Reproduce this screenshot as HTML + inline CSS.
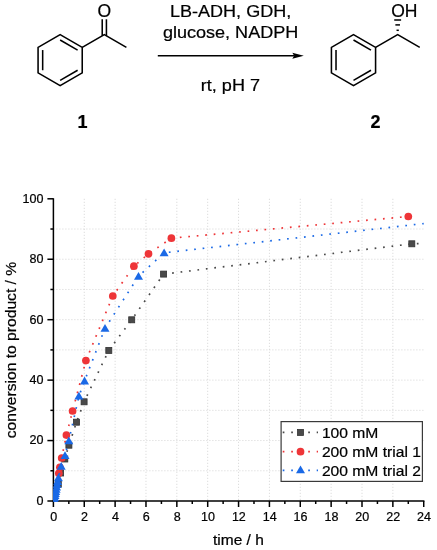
<!DOCTYPE html>
<html><head><meta charset="utf-8"><style>
html,body{margin:0;padding:0;background:#fff;}
svg{display:block;}
text{font-family:"Liberation Sans",Arial,sans-serif;fill:#000;stroke:#000;stroke-width:0.22px;}
</style></head><body>
<svg width="437" height="550" viewBox="0 0 437 550">
<rect width="437" height="550" fill="#fff"/>
<polygon points="60.15,34.65 82.23,47.40 82.23,72.90 60.15,85.65 38.07,72.90 38.07,47.40" fill="none" stroke="#000" stroke-width="1.55" stroke-linejoin="miter"/><line x1="60.15" y1="39.96" x2="77.63" y2="50.06" stroke="#000" stroke-width="1.55"/><line x1="77.63" y1="70.24" x2="60.15" y2="80.34" stroke="#000" stroke-width="1.55"/><line x1="42.67" y1="70.24" x2="42.67" y2="50.06" stroke="#000" stroke-width="1.55"/><polyline points="82.23,47.40 104.32,34.65 126.40,47.40" fill="none" stroke="#000" stroke-width="1.55" stroke-linejoin="miter"/><line x1="102.22" y1="19.3" x2="102.22" y2="35.86" stroke="#000" stroke-width="1.55"/><line x1="106.42" y1="19.3" x2="106.42" y2="35.86" stroke="#000" stroke-width="1.55"/><text x="104.32" y="17.2" font-size="17.5" text-anchor="middle">O</text><polygon points="353.50,34.65 375.58,47.40 375.58,72.90 353.50,85.65 331.42,72.90 331.42,47.40" fill="none" stroke="#000" stroke-width="1.55" stroke-linejoin="miter"/><line x1="353.50" y1="39.96" x2="370.98" y2="50.06" stroke="#000" stroke-width="1.55"/><line x1="370.98" y1="70.24" x2="353.50" y2="80.34" stroke="#000" stroke-width="1.55"/><line x1="336.02" y1="70.24" x2="336.02" y2="50.06" stroke="#000" stroke-width="1.55"/><polyline points="375.58,47.40 397.67,34.65 419.75,47.40" fill="none" stroke="#000" stroke-width="1.55" stroke-linejoin="miter"/><line x1="394.22" y1="20.0" x2="401.12" y2="20.0" stroke="#000" stroke-width="1.5"/><line x1="395.37" y1="24.9" x2="399.97" y2="24.9" stroke="#000" stroke-width="1.5"/><line x1="396.52" y1="30.3" x2="398.82" y2="30.3" stroke="#000" stroke-width="1.5"/><text x="391.20" y="17.0" font-size="17.5">OH</text><text x="82.4" y="127.9" font-size="18" font-weight="bold" text-anchor="middle">1</text><text x="375.4" y="127.9" font-size="18" font-weight="bold" text-anchor="middle">2</text><text transform="translate(230.6,16.7) scale(1.05,1)" font-size="17.2" text-anchor="middle">LB-ADH, GDH,</text><text transform="translate(230.6,37.8) scale(1.05,1)" font-size="17.2" text-anchor="middle">glucose, NADPH</text><text transform="translate(230.4,90.6) scale(1.05,1)" font-size="17.2" text-anchor="middle">rt, pH 7</text><line x1="157.8" y1="55.8" x2="294" y2="55.8" stroke="#000" stroke-width="1.5"/><path d="M303.8,55.8 L292.3,52.8 L294.2,55.8 L292.3,58.8 Z" fill="#000"/><g stroke="#d4d4d4" stroke-width="1" stroke-dasharray="1 2"><line x1="84.26" y1="198.80" x2="84.26" y2="501.00"/><line x1="115.12" y1="198.80" x2="115.12" y2="501.00"/><line x1="145.98" y1="198.80" x2="145.98" y2="501.00"/><line x1="176.84" y1="198.80" x2="176.84" y2="501.00"/><line x1="207.70" y1="198.80" x2="207.70" y2="501.00"/><line x1="238.56" y1="198.80" x2="238.56" y2="501.00"/><line x1="269.42" y1="198.80" x2="269.42" y2="501.00"/><line x1="300.28" y1="198.80" x2="300.28" y2="501.00"/><line x1="331.14" y1="198.80" x2="331.14" y2="501.00"/><line x1="362.00" y1="198.80" x2="362.00" y2="501.00"/><line x1="392.86" y1="198.80" x2="392.86" y2="501.00"/><line x1="53.40" y1="470.78" x2="423.72" y2="470.78"/><line x1="53.40" y1="440.56" x2="423.72" y2="440.56"/><line x1="53.40" y1="410.34" x2="423.72" y2="410.34"/><line x1="53.40" y1="380.12" x2="423.72" y2="380.12"/><line x1="53.40" y1="349.90" x2="423.72" y2="349.90"/><line x1="53.40" y1="319.68" x2="423.72" y2="319.68"/><line x1="53.40" y1="289.46" x2="423.72" y2="289.46"/><line x1="53.40" y1="259.24" x2="423.72" y2="259.24"/><line x1="53.40" y1="229.02" x2="423.72" y2="229.02"/></g><g stroke="#000" stroke-width="1.5" stroke-linecap="butt"><line x1="53.40" y1="198.20" x2="53.40" y2="501.70"/><line x1="52.70" y1="501.00" x2="424.42" y2="501.00"/><line x1="47.40" y1="501.00" x2="53.40" y2="501.00"/><line x1="50.40" y1="470.78" x2="53.40" y2="470.78"/><line x1="47.40" y1="440.56" x2="53.40" y2="440.56"/><line x1="50.40" y1="410.34" x2="53.40" y2="410.34"/><line x1="47.40" y1="380.12" x2="53.40" y2="380.12"/><line x1="50.40" y1="349.90" x2="53.40" y2="349.90"/><line x1="47.40" y1="319.68" x2="53.40" y2="319.68"/><line x1="50.40" y1="289.46" x2="53.40" y2="289.46"/><line x1="47.40" y1="259.24" x2="53.40" y2="259.24"/><line x1="50.40" y1="229.02" x2="53.40" y2="229.02"/><line x1="47.40" y1="198.80" x2="53.40" y2="198.80"/><line x1="53.40" y1="501.00" x2="53.40" y2="507.00"/><line x1="68.83" y1="501.00" x2="68.83" y2="504.00"/><line x1="84.26" y1="501.00" x2="84.26" y2="507.00"/><line x1="99.69" y1="501.00" x2="99.69" y2="504.00"/><line x1="115.12" y1="501.00" x2="115.12" y2="507.00"/><line x1="130.55" y1="501.00" x2="130.55" y2="504.00"/><line x1="145.98" y1="501.00" x2="145.98" y2="507.00"/><line x1="161.41" y1="501.00" x2="161.41" y2="504.00"/><line x1="176.84" y1="501.00" x2="176.84" y2="507.00"/><line x1="192.27" y1="501.00" x2="192.27" y2="504.00"/><line x1="207.70" y1="501.00" x2="207.70" y2="507.00"/><line x1="223.13" y1="501.00" x2="223.13" y2="504.00"/><line x1="238.56" y1="501.00" x2="238.56" y2="507.00"/><line x1="253.99" y1="501.00" x2="253.99" y2="504.00"/><line x1="269.42" y1="501.00" x2="269.42" y2="507.00"/><line x1="284.85" y1="501.00" x2="284.85" y2="504.00"/><line x1="300.28" y1="501.00" x2="300.28" y2="507.00"/><line x1="315.71" y1="501.00" x2="315.71" y2="504.00"/><line x1="331.14" y1="501.00" x2="331.14" y2="507.00"/><line x1="346.57" y1="501.00" x2="346.57" y2="504.00"/><line x1="362.00" y1="501.00" x2="362.00" y2="507.00"/><line x1="377.43" y1="501.00" x2="377.43" y2="504.00"/><line x1="392.86" y1="501.00" x2="392.86" y2="507.00"/><line x1="408.29" y1="501.00" x2="408.29" y2="504.00"/><line x1="423.72" y1="501.00" x2="423.72" y2="507.00"/></g><clipPath id="pc"><rect x="53.20" y="150" width="378.32" height="351.90"/></clipPath><g clip-path="url(#pc)"><polyline points="53.40,501.00 58.30,484.20 60.60,473.00 64.80,459.00 68.90,445.20 76.50,422.20 84.10,401.80 108.80,350.40 131.70,319.80 163.60,274.10 411.80,243.80 423.70,243.60" fill="none" stroke="#4a4a4a" stroke-width="1.7" stroke-dasharray="1.7 6.8"/><rect x="55.30" y="481.20" width="6.0" height="6.0" fill="#4a4a4a" stroke="#333" stroke-width="0.8"/><rect x="57.60" y="470.00" width="6.0" height="6.0" fill="#4a4a4a" stroke="#333" stroke-width="0.8"/><rect x="61.80" y="456.00" width="6.0" height="6.0" fill="#4a4a4a" stroke="#333" stroke-width="0.8"/><rect x="65.90" y="442.20" width="6.0" height="6.0" fill="#4a4a4a" stroke="#333" stroke-width="0.8"/><rect x="73.50" y="419.20" width="6.0" height="6.0" fill="#4a4a4a" stroke="#333" stroke-width="0.8"/><rect x="81.10" y="398.80" width="6.0" height="6.0" fill="#4a4a4a" stroke="#333" stroke-width="0.8"/><rect x="105.80" y="347.40" width="6.0" height="6.0" fill="#4a4a4a" stroke="#333" stroke-width="0.8"/><rect x="128.70" y="316.80" width="6.0" height="6.0" fill="#4a4a4a" stroke="#333" stroke-width="0.8"/><rect x="160.60" y="271.10" width="6.0" height="6.0" fill="#4a4a4a" stroke="#333" stroke-width="0.8"/><rect x="408.80" y="240.80" width="6.0" height="6.0" fill="#4a4a4a" stroke="#333" stroke-width="0.8"/><polyline points="53.40,501.00 58.80,473.30 59.90,467.30 61.70,458.00 66.40,435.10 72.60,411.00 85.90,360.60 112.80,296.00 133.90,266.20 148.50,253.80 171.40,238.20 408.30,216.50" fill="none" stroke="#ee3538" stroke-width="1.7" stroke-dasharray="1.7 6.8"/><circle cx="58.80" cy="473.30" r="3.85" fill="#ee3538"/><circle cx="59.90" cy="467.30" r="3.85" fill="#ee3538"/><circle cx="61.70" cy="458.00" r="3.85" fill="#ee3538"/><circle cx="66.40" cy="435.10" r="3.85" fill="#ee3538"/><circle cx="72.60" cy="411.00" r="3.85" fill="#ee3538"/><circle cx="85.90" cy="360.60" r="3.85" fill="#ee3538"/><circle cx="112.80" cy="296.00" r="3.85" fill="#ee3538"/><circle cx="133.90" cy="266.20" r="3.85" fill="#ee3538"/><circle cx="148.50" cy="253.80" r="3.85" fill="#ee3538"/><circle cx="171.40" cy="238.20" r="3.85" fill="#ee3538"/><circle cx="408.30" cy="216.50" r="3.85" fill="#ee3538"/><polyline points="54.30,499.60 54.60,497.60 55.00,495.60 55.30,493.60 55.70,491.50 56.10,489.30 56.50,487.00 57.00,484.50 57.60,481.50 58.40,477.90 61.20,466.30 65.00,455.60 68.80,440.80 78.90,396.20 84.50,381.00 105.00,328.30 138.50,276.30 164.10,252.80 423.70,223.60" fill="none" stroke="#1a69e6" stroke-width="1.7" stroke-dasharray="1.7 6.8"/><polygon points="54.30,495.20 58.80,503.00 49.80,503.00" fill="#1a69e6"/><polygon points="54.60,493.20 59.10,501.00 50.10,501.00" fill="#1a69e6"/><polygon points="55.00,491.20 59.50,499.00 50.50,499.00" fill="#1a69e6"/><polygon points="55.30,489.20 59.80,497.00 50.80,497.00" fill="#1a69e6"/><polygon points="55.70,487.10 60.20,494.90 51.20,494.90" fill="#1a69e6"/><polygon points="56.10,484.90 60.60,492.70 51.60,492.70" fill="#1a69e6"/><polygon points="56.50,482.60 61.00,490.40 52.00,490.40" fill="#1a69e6"/><polygon points="57.00,480.10 61.50,487.90 52.50,487.90" fill="#1a69e6"/><polygon points="57.60,477.10 62.10,484.90 53.10,484.90" fill="#1a69e6"/><polygon points="58.40,473.50 62.90,481.30 53.90,481.30" fill="#1a69e6"/><polygon points="61.20,461.90 65.70,469.70 56.70,469.70" fill="#1a69e6"/><polygon points="65.00,451.20 69.50,459.00 60.50,459.00" fill="#1a69e6"/><polygon points="68.80,436.40 73.30,444.20 64.30,444.20" fill="#1a69e6"/><polygon points="78.90,391.80 83.40,399.60 74.40,399.60" fill="#1a69e6"/><polygon points="84.50,376.60 89.00,384.40 80.00,384.40" fill="#1a69e6"/><polygon points="105.00,323.90 109.50,331.70 100.50,331.70" fill="#1a69e6"/><polygon points="138.50,271.90 143.00,279.70 134.00,279.70" fill="#1a69e6"/><polygon points="164.10,248.40 168.60,256.20 159.60,256.20" fill="#1a69e6"/></g><g font-size="13"><text transform="translate(43.5,504.90) scale(0.965,1)" text-anchor="end">0</text><text transform="translate(43.5,444.46) scale(0.965,1)" text-anchor="end">20</text><text transform="translate(43.5,384.02) scale(0.965,1)" text-anchor="end">40</text><text transform="translate(43.5,323.58) scale(0.965,1)" text-anchor="end">60</text><text transform="translate(43.5,263.14) scale(0.965,1)" text-anchor="end">80</text><text transform="translate(43.5,202.70) scale(0.965,1)" text-anchor="end">100</text><text transform="translate(53.70,520.8) scale(0.965,1)" text-anchor="middle">0</text><text transform="translate(84.56,520.8) scale(0.965,1)" text-anchor="middle">2</text><text transform="translate(115.42,520.8) scale(0.965,1)" text-anchor="middle">4</text><text transform="translate(146.28,520.8) scale(0.965,1)" text-anchor="middle">6</text><text transform="translate(177.14,520.8) scale(0.965,1)" text-anchor="middle">8</text><text transform="translate(208.00,520.8) scale(0.965,1)" text-anchor="middle">10</text><text transform="translate(238.86,520.8) scale(0.965,1)" text-anchor="middle">12</text><text transform="translate(269.72,520.8) scale(0.965,1)" text-anchor="middle">14</text><text transform="translate(300.58,520.8) scale(0.965,1)" text-anchor="middle">16</text><text transform="translate(331.44,520.8) scale(0.965,1)" text-anchor="middle">18</text><text transform="translate(362.30,520.8) scale(0.965,1)" text-anchor="middle">20</text><text transform="translate(393.16,520.8) scale(0.965,1)" text-anchor="middle">22</text><text transform="translate(424.02,520.8) scale(0.965,1)" text-anchor="middle">24</text></g><text transform="translate(238.4,545.2) scale(1.085,1)" font-size="14.3" text-anchor="middle">time / h</text><text transform="translate(15.9,350) rotate(-90) scale(1.03,1)" font-size="15.2" text-anchor="middle">conversion to product / %</text><rect x="281.1" y="421.6" width="141.3" height="59.8" fill="#fff" stroke="#3a3a3a" stroke-width="1.2"/><line x1="282.7" y1="432.4" x2="318" y2="432.4" stroke="#4a4a4a" stroke-width="1.7" stroke-dasharray="1.7 6.8"/><rect x="297.50" y="429.40" width="6.0" height="6.0" fill="#4a4a4a" stroke="#333" stroke-width="0.8"/><text transform="translate(321.9,437.50) scale(1.03,1)" font-size="15.2">100 mM</text><line x1="282.7" y1="451.7" x2="318" y2="451.7" stroke="#ee3538" stroke-width="1.7" stroke-dasharray="1.7 6.8"/><circle cx="300.50" cy="451.70" r="3.85" fill="#ee3538"/><text transform="translate(321.9,456.80) scale(1.03,1)" font-size="15.2">200 mM trial 1</text><line x1="282.7" y1="470.3" x2="318" y2="470.3" stroke="#1a69e6" stroke-width="1.7" stroke-dasharray="1.7 6.8"/><polygon points="300.50,465.40 305.00,473.20 296.00,473.20" fill="#1a69e6"/><text transform="translate(321.9,475.90) scale(1.03,1)" font-size="15.2">200 mM trial 2</text>
</svg>
</body></html>
